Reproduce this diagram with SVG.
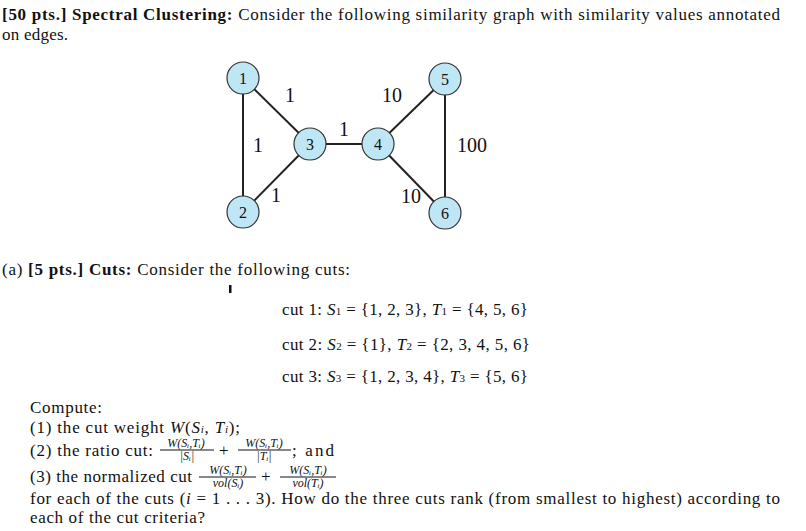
<svg xmlns="http://www.w3.org/2000/svg" width="806" height="531" viewBox="0 0 806 531">
<style>
text{font-family:"Liberation Serif","DejaVu Serif",serif;fill:#111;font-size:17px}
.n circle{fill:#bfe6f5;stroke:#333;stroke-width:1.2}
.n text{font-size:16px;text-anchor:middle}
.e line{stroke:#222;stroke-width:2}
.l{font-size:20px;text-anchor:middle}
.b{font-weight:bold}
.s{font-size:12px;font-style:italic}
.m{text-anchor:middle}
</style>
<rect width="806" height="531" fill="#fff"/>
<text x="2" y="20" textLength="778" lengthAdjust="spacing"><tspan class="b">[50 pts.] Spectral Clustering:</tspan> Consider the following similarity graph with similarity values annotated</text>
<text x="2" y="40" textLength="66">on edges.</text>
<g class="e">
<line x1="243" y1="78" x2="243" y2="212"/>
<line x1="243" y1="78" x2="310" y2="144"/>
<line x1="243" y1="212" x2="310" y2="144"/>
<line x1="310" y1="144" x2="378" y2="144"/>
<line x1="378" y1="144" x2="445" y2="79"/>
<line x1="378" y1="144" x2="445" y2="213"/>
<line x1="445" y1="79" x2="445" y2="213"/>
</g>
<text class="l" x="290" y="102">1</text>
<text class="l" x="392" y="102">10</text>
<text class="l" x="258" y="152">1</text>
<text class="l" x="344" y="136">1</text>
<text class="l" x="472" y="152">100</text>
<text class="l" x="276" y="202">1</text>
<text class="l" x="411" y="203">10</text>
<g id="n1" class="n"><circle cx="243" cy="78" r="16"/><text x="243" y="84">1</text></g>
<g id="n2" class="n"><circle cx="243" cy="212" r="16"/><text x="243" y="218">2</text></g>
<g id="n3" class="n"><circle cx="310" cy="144" r="16"/><text x="310" y="150">3</text></g>
<g id="n4" class="n"><circle cx="378" cy="144" r="16"/><text x="378" y="150">4</text></g>
<g id="n5" class="n"><circle cx="445" cy="79" r="16"/><text x="445" y="85">5</text></g>
<g id="n6" class="n"><circle cx="445" cy="213" r="16"/><text x="445" y="219">6</text></g>
<text x="2" y="275" textLength="348" lengthAdjust="spacing">(a) <tspan class="b">[5 pts.] Cuts:</tspan> Consider the following cuts:</text>
<rect x="229" y="285" width="2.5" height="8" fill="#111"/>
<text x="282" y="315" textLength="246" lengthAdjust="spacing">cut 1: <tspan font-style="italic">S</tspan><tspan font-size="11">1</tspan> = {1, 2, 3}, <tspan font-style="italic">T</tspan><tspan font-size="11">1</tspan> = {4, 5, 6}</text>
<text x="282" y="350" textLength="248" lengthAdjust="spacing">cut 2: <tspan font-style="italic">S</tspan><tspan font-size="11">2</tspan> = {1}, <tspan font-style="italic">T</tspan><tspan font-size="11">2</tspan> = {2, 3, 4, 5, 6}</text>
<text x="282" y="382" textLength="246" lengthAdjust="spacing">cut 3: <tspan font-style="italic">S</tspan><tspan font-size="11">3</tspan> = {1, 2, 3, 4}, <tspan font-style="italic">T</tspan><tspan font-size="11">3</tspan> = {5, 6}</text>
<text x="30" y="413" textLength="72">Compute:</text>
<text x="30" y="433" textLength="210" lengthAdjust="spacing">(1) the cut weight <tspan font-style="italic">W</tspan>(<tspan font-style="italic">S<tspan font-size="11">i</tspan></tspan>, <tspan font-style="italic">T<tspan font-size="11">i</tspan></tspan>);</text>
<text x="30" y="456" textLength="123" lengthAdjust="spacing">(2) the ratio cut:</text>
<text class="s m" x="186" y="447">W(Sᵢ,Tᵢ)</text><line x1="160" y1="450" x2="214" y2="450" stroke="#111"/><text class="s m" x="187" y="460">|Sᵢ|</text>
<text x="219" y="456">+</text>
<text class="s m" x="264" y="447">W(Sᵢ,Tᵢ)</text><line x1="238" y1="450" x2="291" y2="450" stroke="#111"/><text class="s m" x="264" y="460">|Tᵢ|</text>
<text x="292" y="456" textLength="42">; and</text>
<text x="30" y="482" textLength="162" lengthAdjust="spacing">(3) the normalized cut</text>
<text class="s m" x="228" y="474">W(Sᵢ,Tᵢ)</text><line x1="199" y1="477" x2="256" y2="477" stroke="#111"/><text class="s m" x="228" y="487">vol(Sᵢ)</text>
<text x="261" y="482">+</text>
<text class="s m" x="308" y="474">W(Sᵢ,Tᵢ)</text><line x1="280" y1="477" x2="336" y2="477" stroke="#111"/><text class="s m" x="308" y="487">vol(Tᵢ)</text>
<text x="30" y="504" textLength="750" lengthAdjust="spacing">for each of the cuts (<tspan font-style="italic">i</tspan> = 1 . . . 3). How do the three cuts rank (from smallest to highest) according to</text>
<text x="30" y="523" textLength="175" lengthAdjust="spacing">each of the cut criteria?</text>
</svg>
